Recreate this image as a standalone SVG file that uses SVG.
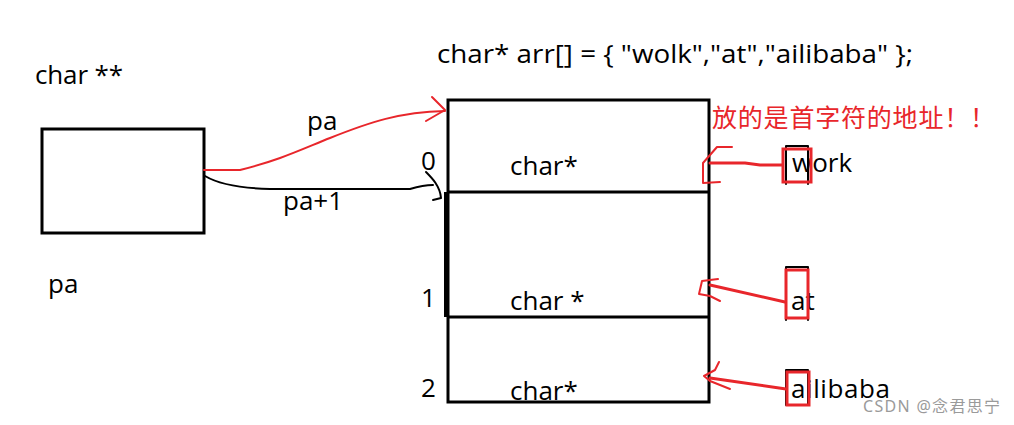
<svg xmlns="http://www.w3.org/2000/svg" width="1014" height="425" viewBox="0 0 1014 425">
<style>
.t{font-family:"Open Sans","Noto Sans CJK SC",sans-serif;font-size:26px;fill:#000}
.r{font-family:"Noto Sans CJK SC",sans-serif;font-size:25px;fill:#e8262b}
.wm{font-family:"Noto Sans","Noto Sans CJK SC",sans-serif;font-size:16px;fill:#9a9a9a}
.box{fill:none;stroke:#000;stroke-width:3}
.red{fill:none;stroke:#e8262b;stroke-width:2;stroke-linejoin:round;stroke-linecap:round}
.redb{fill:none;stroke:#e8262b;stroke-width:3}
.blk{fill:none;stroke:#000;stroke-width:2;stroke-linejoin:round;stroke-linecap:round}
</style>
<rect width="1014" height="425" fill="#fff"/>
<text class="t" x="437" y="63" textLength="476" lengthAdjust="spacingAndGlyphs">char* arr[] = { "wolk","at","ailibaba" };</text>
<g id="pa-box">
<text class="t" x="35" y="84" textLength="88">char **</text>
<rect class="box" x="42" y="129" width="162" height="104"/>
<text class="t" x="48" y="293">pa</text>
</g>
<g id="arr">
<text class="t" x="510" y="175">char*</text>
<text class="t" x="510" y="310">char *</text>
<text class="t" x="510" y="400">char*</text>
<rect class="box" x="448" y="100" width="261" height="302"/>
<line class="box" x1="448" y1="192" x2="709" y2="192"/>
<line class="box" x1="448" y1="317" x2="709" y2="317"/>
<line x1="446.5" y1="192" x2="446.5" y2="317" stroke="#000" stroke-width="5"/>
<text class="t" x="421" y="170">0</text>
<text class="t" x="421" y="307">1</text>
<text class="t" x="421" y="397">2</text>
</g>
<g id="note">
<text class="r" x="712" y="127" textLength="283">放的是首字符的地址！！</text>
</g>
<g id="str-work">
<text class="t" x="792" y="172">work</text>
<path class="blk" d="M786 184 V146 H808 V184"/>
<rect class="redb" x="783" y="149" width="28" height="33"/>
</g>
<g id="str-at">
<text class="t" x="791" y="310">at</text>
<path class="blk" d="M786 320 V267 H808 V320"/>
<rect class="redb" x="786" y="270" width="22" height="48"/>
</g>
<g id="str-ailibaba">
<text class="t" x="791" y="398" textLength="99">ailibaba</text>
<path class="blk" d="M786 405 V370 H808 V405"/>
<rect class="redb" x="787" y="372" width="22" height="33"/>
</g>
<g id="connectors">
<text class="t" x="307" y="130">pa</text>
<text class="t" x="283" y="210">pa+1</text>
<path class="red" d="M204 170 H240 C280 160 300 150 330 138 C370 122 400 112 445 111"/>
<path class="red" d="M432 97 L445 110 L426 121"/>
<path class="blk" d="M205 176 C215 182 235 188 270 189 L410 189 C420 186 428 185 433 185"/>
<path class="blk" d="M426 172 C432 178 440 186 441 198 L433 200"/>
<path class="red" style="stroke-width:3" d="M782 165 L760 165 L745 163 L710 163"/>
<path class="red" d="M732 147 L717 147 L710 155 L703 163 L703 183 L720 182"/>
<path class="red" style="stroke-width:3" d="M785 302 L710 285"/>
<path class="red" d="M718 279 L702 281 L699 294 L710 296 L720 301"/>
<path class="red" style="stroke-width:3" d="M786 389 L710 378"/>
<path class="red" d="M719 362 L715 370 L704 376 L710 381 L730 389"/>
</g>
<text class="wm" x="863" y="412" textLength="137">CSDN @念君思宁</text>
</svg>
